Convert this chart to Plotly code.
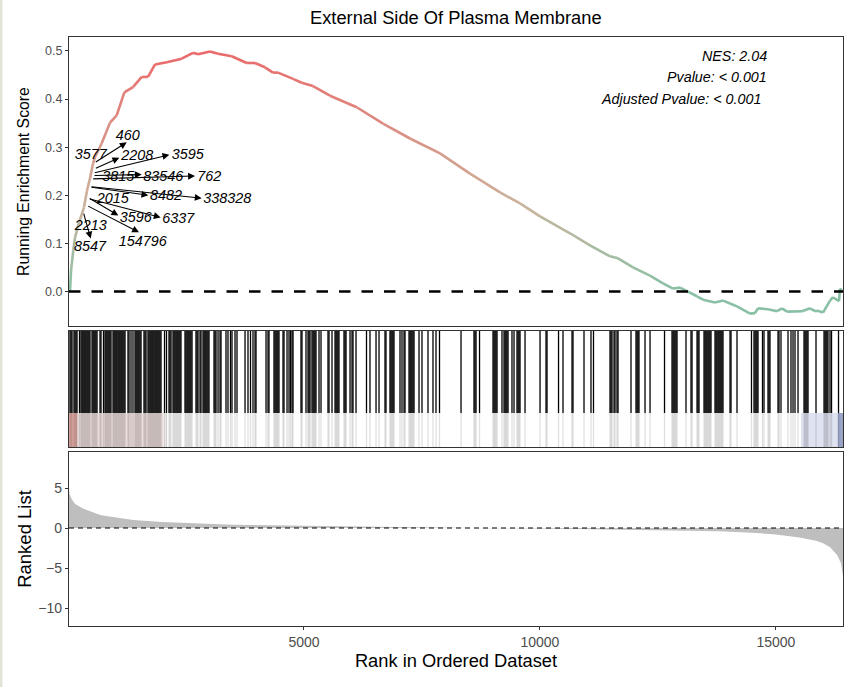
"""
GSEA enrichment plot: running score, hit rug and ranked list, stacked in three panels.
"""

import plotly.graph_objects as go
from plotly.colors import sample_colorscale

WIDTH = 854
HEIGHT = 687

# Running enrichment score
es_rank = [42, 64, 112, 148, 233, 339, 403, 466, 530, 572, 714, 890, 1032, 1193, 1377, 1562, 1695,
           1844, 2119, 2409, 2649, 2755, 3009, 3179, 3469, 3787, 3962, 4174, 4344, 4450, 4768, 4952,
           5191, 5552, 6118, 6675, 7247, 7883, 8518, 9154, 9578, 10002, 10637, 11061, 11485, 11655,
           11972, 12332, 12608, 12820, 12968, 13329, 13456, 13710, 13879, 14028, 14176, 14452, 14558,
           14621, 14833, 15024, 15130, 15236, 15554, 15723, 15829, 15893, 15998, 16147, 16210, 16337,
           16359, 16401]
es_value = [0.0, 0.044, 0.085, 0.112, 0.143, 0.175, 0.210, 0.235, 0.266, 0.279, 0.308, 0.351, 0.366,
            0.414, 0.425, 0.446, 0.446, 0.472, 0.477, 0.484, 0.496, 0.493, 0.499, 0.494, 0.489, 0.475,
            0.475, 0.466, 0.455, 0.455, 0.442, 0.434, 0.427, 0.407, 0.383, 0.349, 0.318, 0.287, 0.245,
            0.206, 0.183, 0.156, 0.121, 0.096, 0.073, 0.069, 0.050, 0.033, 0.017, 0.006, 0.008, -0.010,
            -0.017, -0.023, -0.019, -0.025, -0.031, -0.046, -0.045, -0.035, -0.037, -0.041, -0.035,
            -0.042, -0.041, -0.035, -0.041, -0.040, -0.044, -0.019, -0.012, -0.020, 0.006, 0.002]

# Ranks of the gene set members
hit_rank = [42, 64, 85, 127, 148, 170, 191, 244, 275, 297, 318, 339, 360, 381, 403, 424, 445, 466,
            509, 530, 551, 572, 593, 615, 678, 699, 752, 784, 805, 826, 848, 869, 890, 911,
            954, 975, 996, 1017, 1038, 1060, 1081, 1102, 1123, 1144, 1165, 1187, 1208, 1271, 1293,
            1335, 1377, 1420, 1441, 1462, 1483, 1504, 1526, 1547, 1610, 1632, 1653, 1695, 1716, 1738,
            1759, 1780, 1801, 1822, 1844, 1865, 1886, 1907, 1928, 1949, 1971, 2045, 2087, 2140, 2161,
            2183, 2225, 2246, 2267, 2289, 2310, 2331, 2352, 2373, 2394, 2479, 2500, 2522, 2543, 2564,
            2585, 2606, 2628, 2712, 2734, 2755, 2797, 2818, 2861, 2882, 2903, 2924, 2945, 2967, 2988,
            3094, 3115, 3136, 3179, 3221, 3242, 3348, 3390, 3443, 3475, 3539, 3581, 3751, 3814, 3867,
            3920, 3963, 3984, 4196, 4238, 4259, 4365, 4386, 4408, 4429, 4450, 4471, 4556, 4577, 4641,
            4683, 4715, 4747, 4768, 4937, 4958, 5043, 5086, 5107, 5128, 5170, 5192, 5213, 5234, 5255,
            5319, 5361, 5509, 5531, 5594, 5658, 5679, 5700, 5721, 5742, 5848, 5870, 5891, 5976, 6018,
            6039, 6103, 6325, 6399, 6527, 6590, 6717, 6738, 6823, 6844, 6866, 6887, 6908, 7035, 7077,
            7120, 7141, 7226, 7247, 7268, 7289, 7311, 7332, 7438, 7501, 7628, 7734, 7798, 7872, 8328,
            8603, 8624, 8646, 8720, 9006, 9027, 9048, 9069, 9091, 9196, 9239, 9260, 9281, 9302, 9324,
            9408, 9451, 9514, 9536, 9557, 9578, 9684, 10002, 10129, 10150, 10394, 10489, 10680, 10701,
            10934, 11082, 11135, 11485, 11506, 11527, 11570, 11591, 11633, 11655, 11930, 12036, 12057,
            12078, 12099, 12227, 12333, 12640, 12799, 12820, 12841, 12862, 12884, 12905, 13095, 13201,
            13223, 13329, 13350, 13371, 13477, 13498, 13519, 13540, 13562, 13583, 13604, 13625, 13710,
            13731, 13752, 13774, 13795, 13816, 13837, 13858, 13879, 14028, 14049, 14176, 14483, 14536,
            14558, 14579, 14600, 14621, 14716, 14748, 14833, 14854, 14875, 15045, 15066, 15108, 15257,
            15320, 15363, 15405, 15469, 15596, 15617, 15638, 15660, 15681, 15850, 16020, 16041, 16062,
            16083, 16104, 16147, 16179, 16327]

# Colour bands under the rug
band_start = [21, 190, 2020, 15530, 16310]
band_end = [190, 2020, 2100, 16310, 16422]
band_color = ["#E3ABA5", "#EADCDA", "#F3EEEE", "#DFE2F0", "#9AA4C6"]

# Ranked list metric
metric_rank = [21, 30, 80, 110, 150, 330, 700, 1380, 2000, 2800, 3500, 5000, 6000, 7000, 8000, 9000,
               10000, 11000, 12000, 13000, 13800, 14500, 15000, 15500, 15850, 16000, 16150, 16300,
               16380, 16422]
metric_value = [5.0, 4.3, 3.6, 3.3, 3.0, 2.4, 1.6, 1.0, 0.75, 0.55, 0.42, 0.27, 0.18, 0.1, 0.04, -0.02,
                -0.07, -0.14, -0.22, -0.33, -0.42, -0.6, -0.8, -1.2, -1.6, -1.9, -2.4, -3.4, -4.4, -6.0]

# Gene labels
gene_label = ["460", "3577", "2208", "3595", "3815", "83546", "762", "2015", "8482", "338328",
              "3596", "6337", "154796", "2213", "8547"]
gene_rank = [1265, 481, 1468, 2536, 1066, 2019, 2994, 947, 2077, 3376, 1435, 2337, 1583, 481, 466]
gene_es = [0.323, 0.283, 0.280, 0.282, 0.237, 0.238, 0.237, 0.192, 0.197, 0.191, 0.151, 0.149, 0.103,
           0.136, 0.091]

# Repel arrows: tail on the curve, head near the label
arrow_tail_rank = [557, 557, 536, 530, 502, 466, 466, 430, 430, 396, 324]
arrow_tail_es = [0.267, 0.255, 0.246, 0.241, 0.234, 0.217, 0.218, 0.195, 0.193, 0.179, 0.165]
arrow_head_rank = [1244, 1087, 2147, 1562, 2691, 1702, 2833, 1066, 1964, 1504, 481]
arrow_head_es = [0.310, 0.278, 0.284, 0.243, 0.240, 0.200, 0.194, 0.158, 0.154, 0.123, 0.110]

stat_text = ["NES: 2.04", "Pvalue: < 0.001", "Adjusted Pvalue: < 0.001"]
stat_rank = [14855, 14855, 14730]
stat_es = [0.489, 0.445, 0.401]

x_range = [21, 16422]
x_ticks = [5000, 10000, 15000]
es_ticks = [0.0, 0.1, 0.2, 0.3, 0.4, 0.5]
metric_ticks = [-10, -5, 0, 5]

es_colorscale = [[0, "#7DBA9C"], [0.1, "#7DBA9C"], [0.42, "#C6AC92"], [1, "#E9585A"]]
FONT = "Liberation Sans"
FRAME = "#333333"
TICK_TEXT = "#4D4D4D"


def panel_domain(top_px, bottom_px):
    return [1 - bottom_px / HEIGHT, 1 - top_px / HEIGHT]


fig = go.Figure()

# top panel, one short trace per step so the colour can follow the score
for i in range(len(es_rank) - 1):
    level = (es_value[i] + es_value[i + 1]) / 2
    level = min(max((level + 0.05) / 0.55, 0), 1)
    fig.add_trace(go.Scatter(
        x=es_rank[i:i + 2], y=es_value[i:i + 2], mode="lines", xaxis="x", yaxis="y",
        line=dict(color=sample_colorscale(es_colorscale, [level])[0], width=2.6),
        opacity=0.9, showlegend=False, hoverinfo="skip"
    ))

fig.add_trace(go.Scatter(
    x=gene_rank, y=gene_es, text=gene_label, mode="text", xaxis="x", yaxis="y",
    textfont=dict(family=FONT, size=14.4, color="black", style="italic"),
    showlegend=False, hoverinfo="skip"
))

# rug panel
rug_x = []
rug_y = []
strip_x = []
strip_y = []
for r in hit_rank:
    rug_x += [r, r, None]
    rug_y += [0.293, 1, None]
    strip_x += [r, r, None]
    strip_y += [0, 0.293, None]
fig.add_trace(go.Scatter(x=rug_x, y=rug_y, mode="lines", xaxis="x2", yaxis="y2",
                         line=dict(color="black", width=1.3), showlegend=False, hoverinfo="skip"))
fig.add_trace(go.Scatter(x=strip_x, y=strip_y, mode="lines", xaxis="x2", yaxis="y2",
                         line=dict(color="rgba(0,0,0,0.12)", width=1.3), showlegend=False, hoverinfo="skip"))

# ranked list panel
fig.add_trace(go.Scatter(x=metric_rank, y=metric_value, mode="lines", xaxis="x3", yaxis="y3",
                         fill="tozeroy", fillcolor="#BEBEBE", line=dict(width=0),
                         showlegend=False, hoverinfo="skip"))

shapes = [
    dict(type="rect", xref="paper", yref="paper", x0=0, x1=2.5 / WIDTH, y0=0, y1=1,
         fillcolor="#E3E3D8", line=dict(width=0)),
    dict(type="line", xref="x", yref="y", x0=x_range[0], x1=x_range[1], y0=0, y1=0,
         line=dict(color="black", width=2.6, dash="11.5px,11px")),
    dict(type="line", xref="x3", yref="y3", x0=x_range[0], x1=x_range[1], y0=0, y1=0,
         line=dict(color="black", width=1.2, dash="5px,4px")),
]
for start, end, color in zip(band_start, band_end, band_color):
    shapes.append(dict(type="rect", xref="x2", yref="y2", x0=start, x1=end, y0=0, y1=0.293,
                       fillcolor=color, line=dict(width=0), layer="below"))

annotations = []
for hx, hy, tx, ty in zip(arrow_head_rank, arrow_head_es, arrow_tail_rank, arrow_tail_es):
    annotations.append(dict(x=hx, y=hy, ax=tx, ay=ty, xref="x", yref="y", axref="x", ayref="y",
                            text="", showarrow=True, arrowhead=2, arrowsize=1.25, arrowwidth=1.1,
                            arrowcolor="black"))
for label, x, y in zip(stat_text, stat_rank, stat_es):
    annotations.append(dict(x=x, y=y, xref="x", yref="y", text=label, showarrow=False, xanchor="right",
                            font=dict(family=FONT, size=14.3, color="black", style="italic")))

annotations.append(dict(x=456 / WIDTH, y=1 - 18 / HEIGHT, xref="paper", yref="paper", showarrow=False,
                        yanchor="middle", text="External Side Of Plasma Membrane",
                        font=dict(family=FONT, size=18.3, color="black")))

frame = dict(showline=True, linecolor=FRAME, linewidth=1.3, mirror=True, showgrid=False, zeroline=False,
             tickcolor=FRAME, ticklen=3, tickwidth=1)
small_ticks = dict(family=FONT, size=12.5, color=TICK_TEXT)
large_ticks = dict(family=FONT, size=14, color=TICK_TEXT)
x_domain = [69 / WIDTH, 843 / WIDTH]

fig.update_layout(
    width=WIDTH,
    height=HEIGHT,
    autosize=False,
    margin=dict(l=0, r=0, t=0, b=0),
    paper_bgcolor="white",
    plot_bgcolor="white",
    font=dict(family=FONT),
    showlegend=False,
    shapes=shapes,
    annotations=annotations,
    xaxis=dict(frame, domain=x_domain, range=x_range, anchor="y", showticklabels=False, ticks=""),
    yaxis=dict(frame, domain=panel_domain(37, 326), range=[-0.0718, 0.529], anchor="x", ticks="outside",
               tickvals=es_ticks, tickformat=".1f", tickfont=small_ticks,
               title=dict(text="Running Enrichment Score", font=dict(family=FONT, size=15.8, color="black"),
                          standoff=11)),
    xaxis2=dict(frame, domain=x_domain, range=x_range, anchor="y2", showticklabels=False, ticks=""),
    yaxis2=dict(frame, domain=panel_domain(331, 447), range=[0, 1], anchor="x2", showticklabels=False, ticks=""),
    xaxis3=dict(frame, domain=x_domain, range=x_range, anchor="y3", ticks="outside", tickvals=x_ticks,
                tickformat="d", tickfont=large_ticks,
                title=dict(text="Rank in Ordered Dataset", font=dict(family=FONT, size=18.3, color="black"),
                           standoff=5)),
    yaxis3=dict(frame, domain=panel_domain(452, 626), range=[-12.25, 9.5], anchor="x3", ticks="outside",
                tickvals=metric_ticks, tickfont=large_ticks,
                title=dict(text="Ranked List", font=dict(family=FONT, size=18.5, color="black"), standoff=1)),
)

fig.write_html("out.html", config=dict(displayModeBar=False),
               post_script="document.body.style.margin='0';document.body.style.overflow='hidden';")
